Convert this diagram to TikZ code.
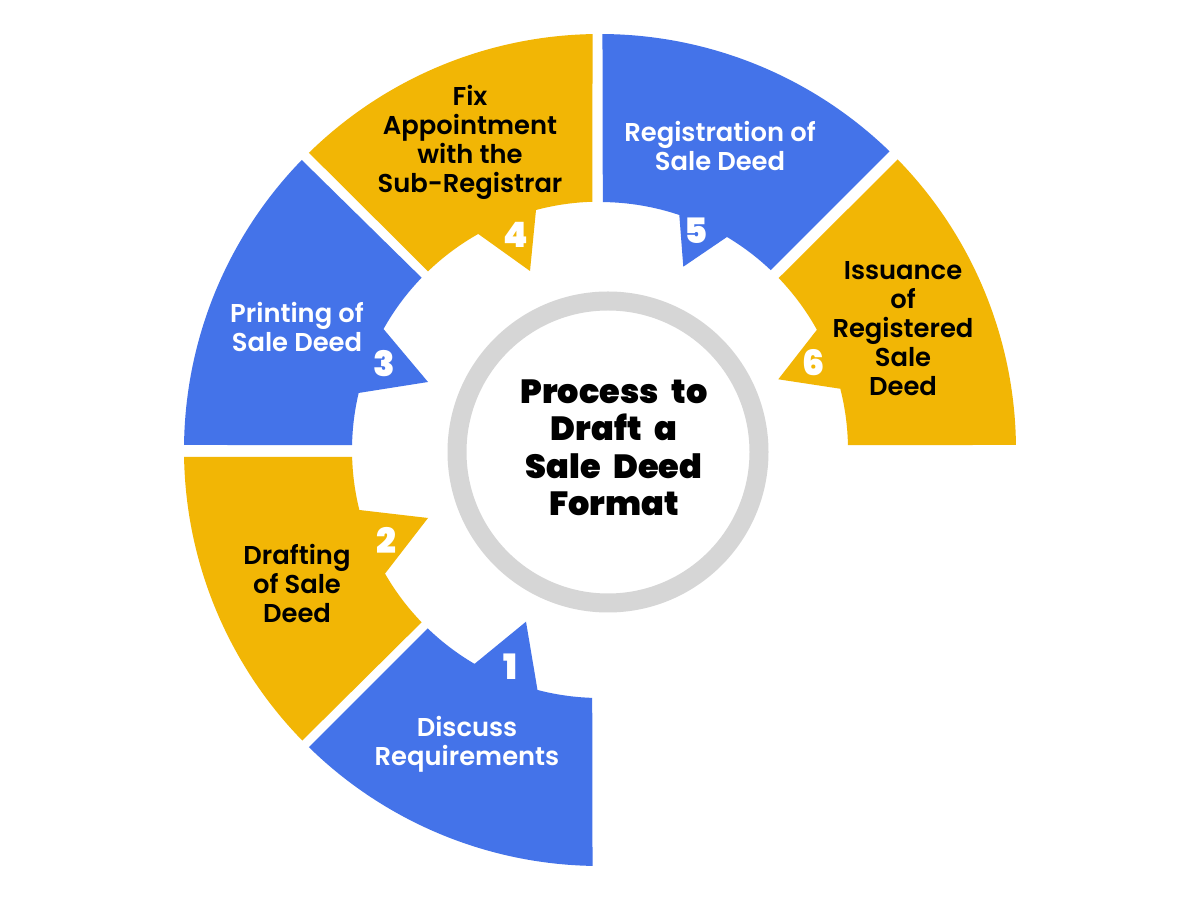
\documentclass[tikz,border=0pt]{standalone}
\usepackage{fontspec}
\setmainfont{Poppins}[BoldFont={Poppins SemiBold}]
\newfontfamily\heavyfont{Poppins Black}
\newfontfamily\titlefont{Poppins Black}[WordSpace=2.2]
\definecolor{segblue}{HTML}{4473E9}
\definecolor{segyellow}{HTML}{F2B605}
\definecolor{ringgray}{HTML}{D6D6D6}
\tikzset{
  segb/.style={fill=segblue,draw=none},
  segy/.style={fill=segyellow,draw=none},
  lab/.style={align=center,inner sep=0pt,font=\bfseries\fontsize{25.8}{29}\selectfont},
  lablack/.style={lab,text=black},
  labwhite/.style={lab,text=white},
  num/.style={inner sep=0pt,text=white,font=\heavyfont\fontsize{35}{36}\selectfont},
  titlelab/.style={align=center,inner sep=0pt,text=black,font=\titlefont\fontsize{33.5}{37.5}\selectfont},
}
\begin{document}
\begin{tikzpicture}[x=1pt,y=1pt]
\useasboundingbox (0,0) rectangle (1200,900);
\fill[white] (0,0) rectangle (1200,900);
\begin{scope}[shift={(600,450)}]
% 4
\fill[segy] (91.03:416) arc[start angle=91.03,end angle=134.4,radius=416] -- (133.9:248) arc[start angle=133.9,end angle=119.4,radius=248] -- (-70,179) -- (-64,240) arc[start angle=104.9,end angle=91.7,radius=248] -- cycle;
% 5
\fill[segb] (89.66:416) arc[start angle=89.66,end angle=45.9,radius=416] -- (46.5:248) arc[start angle=46.5,end angle=59.2,radius=248] -- (83.3,183.3) -- (79.3,235) arc[start angle=71.4,end angle=89.4,radius=248] -- cycle;
% 6
\fill[segy] (44.3:416) arc[start angle=44.3,end angle=0.7,radius=416] -- (1.1:248) arc[start angle=1.1,end angle=14.3,radius=248] -- (178.3,70.7) -- (29:248) arc[start angle=29,end angle=43.9,radius=248] -- cycle;
% 3
\fill[segb] (179.3:416) arc[start angle=179.3,end angle=135.8,radius=416] -- (136:248) arc[start angle=136,end angle=150.8,radius=248] -- (-172,68) -- (166.7:248) arc[start angle=166.7,end angle=178.9,radius=248] -- cycle;
% 2
\fill[segy] (180.96:416) arc[start angle=180.96,end angle=224.3,radius=416] -- (224:248) arc[start angle=224,end angle=209.9,radius=248] -- (-172,-68) -- (194:248) arc[start angle=194,end angle=181.6,radius=248] -- cycle;
% 1
\fill[segb] (225.6:416) arc[start angle=225.6,end angle=268.97,radius=416] -- (268.2:248) arc[start angle=268.2,end angle=255.4,radius=248] -- (-74,-171.7) -- (239.6:248) arc[start angle=239.6,end angle=226,radius=248] -- cycle;
\end{scope}
\node[circle,draw=ringgray,line width=19pt,fill=white,minimum size=302pt,inner sep=0pt] (ring) at (608,448) {};
\node[titlelab] (title) at (614,452) {Process to\\Draft a\\Sale Deed\\Format};
\node[lablack] (t4) at (470,757.5) {Fix\\Appointment\\with the\\Sub-Registrar};
\node[labwhite] (t5) at (720,753.5) {Registration of\\Sale Deed};
\node[lablack] (t6) at (903,571) {Issuance\\of\\Registered\\Sale\\Deed};
\node[labwhite] (t3) at (297,572.5) {Printing of\\Sale Deed};
\node[lablack] (t2) at (297,316) {Drafting\\of Sale\\Deed};
\node[labwhite] (t1) at (467,155.5) {Discuss\\Requirements};
\node[num] (n4) at (515.5,665) {4};
\node[num] (n5) at (696,669) {5};
\node[num] (n6) at (814,537) {6};
\node[num] (n3) at (384,536) {3};
\node[num] (n2) at (386,360) {2};
\node[num] (n1) at (510,233) {1};
\end{tikzpicture}
\end{document}
